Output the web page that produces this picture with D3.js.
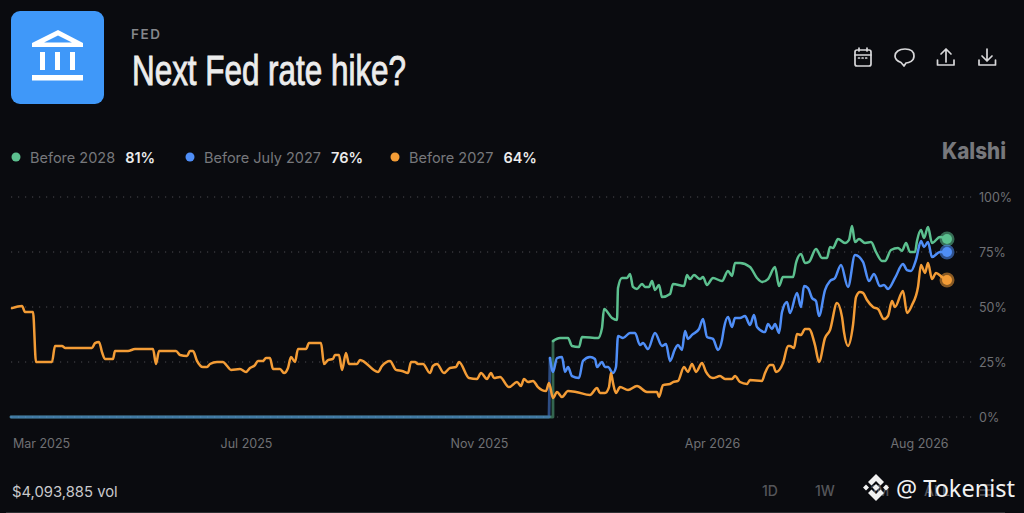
<!DOCTYPE html>
<html>
<head>
<meta charset="utf-8">
<script src="https://cdn.jsdelivr.net/npm/d3@7"></script>
<style>
  html, body { margin: 0; padding: 0; background: #0a0b0f; overflow: hidden; }
  svg { display: block; font-family: Inter, "Noto Sans", sans-serif; }
</style>
</head>
<body>
<svg id="chart" width="1024" height="513"></svg>
<script>
// sample step along the time axis, value in percent
const orangeSteps = [1,11,14,22,25,41,44,51,54,81,84,88,91,94,102,104,117,124,142,145,148,165,169,176,179,182,186,192,196,199,206,212,216,220,229,235,239,244,247,252,255,259,262,269,273,277,280,284,287,295,298,310,313,317,322,324,328,331,335,338,346,349,367,371,379,385,391,397,400,404,407,412,419,422,426,433,439,445,448,458,466,470,476,480,483,489,498,506,510,513,517,522,527,535,538,542,546,551,557,565,579,586,589,594,598,600,602,605,609,617,626,636,646,648,652,659,662,667,673,677,681,685,691,695,702,709,714,721,724,729,736,739,751,754,759,762,765,772,777,779,783,786,790,794,798,804,808,814,819,826,831,833,837,842,845,849,852,856,862,867,873,877,881,884,892,896,901,907,910,914,917,921,925,931,936];
const orangeValues = [49.5,50.5,47.7,47.7,25,25,32.3,32.3,31.4,31.4,33.6,34.1,29.5,26.4,26.4,30,30,30.9,30.9,24.1,30,30,28.2,27.7,30,30,25.5,22.7,22.7,24.1,25,25,23.2,21.4,21.8,20.5,22.3,23.6,25.5,25.5,26.8,26.8,21.8,21.8,20,22.3,27.3,25,30.9,30.9,33.6,33.6,24.1,25.9,26.4,28.2,28.2,21.4,29.1,24.1,24.1,25.9,20.5,23.2,25.5,21.4,20.9,20,25,25,24.1,24.1,20,23.2,24.1,20,22.3,22.7,25,17.7,17.3,20,17.3,20,17.7,18.2,13.6,15.9,14.1,17.3,15.9,16.4,13.6,11.8,15.5,8.6,11.4,9.1,11.8,11.4,10,13.2,10.9,10.9,13.6,20,15.5,10.9,13.6,12.3,14.1,11.4,11.4,9.1,14.5,15,15.9,16.4,22.7,20.5,24.1,20.5,24.5,20.5,17.7,18.6,17.3,17.3,18.6,15.9,15,16.8,16.4,20,23.6,23.6,20.5,24.5,32.3,32.3,31.4,37.7,37.3,40,40,32.7,25,35.9,39.5,51.8,45.5,38.6,32.3,41.8,54.5,56.8,56.4,53.2,50,49.1,44.5,45.9,52.7,50,57.3,47.3,50.9,59.1,69.1,65.5,70,62.7,65.5,63.6,62.3];

const blueSteps = [539,542,546,551,554,557,561,568,572,579,584,586,591,594,597,602,605,607,612,619,624,629,632,637,644,651,655,659,664,667,671,674,677,681,688,692,696,702,707,711,713,717,721,724,729,734,739,743,746,754,757,761,764,768,771,776,779,786,790,793,797,801,805,808,814,819,824,830,837,844,852,858,863,869,873,877,884,892,896,900,905,910,913,917,921,929,936];
const blueValues = [26.8,20.5,26.8,27.3,20.5,22.7,18.6,17.7,25.5,27.3,26.4,22.7,25,22.7,22.7,20,22.7,36.8,35.9,38.2,38.2,32.7,33.6,30.9,38.2,32.3,33.2,25.5,30.9,32.7,30.5,39.1,35.5,37.3,40,44.5,36.4,35.5,30.5,35,40.5,45.5,40.9,45,45,45.9,41.8,46.4,40.9,38.6,42.3,40,42.3,38.2,47.7,52.3,47.3,56.4,50,59.5,58.6,54.1,52.7,45.9,57.7,61.8,63.2,69.1,59.1,73.6,70.5,61.8,65,59.5,60,58.2,63.2,69.5,66.8,66.4,71.4,80,77.3,79.5,72.7,75,75];

const greenSteps = [542,549,557,561,568,571,587,591,593,601,606,607,611,616,619,622,626,631,634,638,641,644,648,651,659,662,673,676,679,683,689,692,696,702,711,717,721,724,729,739,746,751,757,764,768,772,782,785,790,794,798,805,811,816,819,822,827,834,838,841,844,848,854,860,865,871,874,880,887,891,895,899,904,906,910,913,917,921,929,936];
const greenValues = [34.5,35.9,35.9,32.3,31.8,36.4,35.9,40.5,49.1,45,44.1,58.6,63.2,63.2,65,59.1,58.2,60.5,59.1,59.1,61.8,57.7,60,54.5,55.9,60.5,59.5,64.5,62.7,64.5,62.7,63.6,60,63.2,61.8,66.4,64.1,70,70,68.2,63.2,61.4,62.7,68.2,59.5,63.6,63.6,70,74.1,70,70.5,76.4,72.3,72.3,77.3,76.8,80.9,79.1,80.5,86.8,79.5,80.9,79.1,79.5,75,70.9,70.9,75.9,76.8,75.5,79.1,75,75,80,85,81.4,86.4,79.1,81.8,80.9];

// blue and green sit at zero until they start trading
const blueLeadSteps = [0, 538, 539];
const blueLeadValues = [0, 0, 26.8];
const greenLeadSteps = [0, 542, 542];
const greenLeadValues = [0, 0, 34.5];

const yTicks = [0, 25, 50, 75, 100];
const xTickSteps = [30, 235, 468, 701, 908];
const xTickLabels = ["Mar 2025", "Jul 2025", "Nov 2025", "Apr 2026", "Aug 2026"];

const legendNames = ["Before 2028", "Before July 2027", "Before 2027"];
const legendValues = ["81%", "76%", "64%"];
const rangeLabels = ["1D", "1W", "1M", "ALL"];

const green = "#5cc08f", blue = "#4f8ef7", orange = "#f39c36";
const legendColors = [green, blue, orange];

const svg = d3.select("#chart");
const x = d3.scaleLinear().domain([0, 936]).range([11, 947]);
const y = d3.scaleLinear().domain([0, 100]).range([417, 197]);

// header
svg.append("rect").attr("x", 11).attr("y", 11).attr("width", 93).attr("height", 93)
  .attr("rx", 9).attr("fill", "#3f98f9");
const bank = svg.append("g").attr("fill", "#fff");
bank.append("path").attr("fill-rule", "evenodd")
  .attr("d", "M58 30 L83 43 L83 47 L32 47 L32 43 Z M58 35.5 L44 42.5 L72 42.5 Z");
[40, 55, 70].forEach(cx => bank.append("rect").attr("x", cx).attr("y", 52).attr("width", 5).attr("height", 18));
bank.append("rect").attr("x", 32).attr("y", 75).attr("width", 51).attr("height", 5.5);

svg.append("text").attr("x", 131).attr("y", 39).attr("fill", "#85868a")
  .attr("font-size", 13.5).attr("font-weight", 600).attr("letter-spacing", 1.6).text("FED");
svg.append("text").attr("x", 132).attr("y", 85).attr("fill", "#ececec")
  .attr("stroke", "#ececec").attr("stroke-width", 0.9)
  .attr("font-family", "'Liberation Sans Narrow', sans-serif")
  .attr("font-size", 42).attr("textLength", 274).attr("lengthAdjust", "spacingAndGlyphs")
  .text("Next Fed rate hike?");

// toolbar icons
const icons = svg.append("g").attr("fill", "none").attr("stroke", "#d8d8da")
  .attr("stroke-width", 1.7).attr("stroke-linecap", "round").attr("stroke-linejoin", "round");
icons.append("rect").attr("x", 855).attr("y", 50).attr("width", 16).attr("height", 16).attr("rx", 2);
icons.append("path").attr("d", "M855 55 H871 M859 48 V51 M867 48 V51");
icons.append("path").attr("stroke-dasharray", "1 2.6").attr("d", "M858.5 58 H868");
icons.append("path").attr("d", "M905 49 C911 49 914 52 914 56 C914 61 909 63 906 63 L904 66 L901 62.500 C897 61 895 59 895 56 C895 52 899 49 905 49 Z");
icons.append("path").attr("d", "M946 62 V50 M941 54 L946 49 L951 54 M937.500 60 V65 H954 V60");
icons.append("path").attr("d", "M987 49 V60 M982 56 L987 61 L992 56 M979 60 V65 H995.500 V60");

// legend
const legendStarts = [12, 186, 391];
legendNames.forEach((name, i) => {
  const g = svg.append("g").attr("transform", `translate(${legendStarts[i]},0)`);
  g.append("circle").attr("cx", 4).attr("cy", 157).attr("r", 4.5).attr("fill", legendColors[i]);
  const label = g.append("text").attr("x", 18).attr("y", 162.500).attr("fill", "#77787c").attr("font-size", 14.5).text(name);
  const w = label.node().getComputedTextLength();
  g.append("text").attr("x", 18 + w + 10).attr("y", 162.500).attr("fill", "#ececec")
    .attr("font-size", 14.5).attr("font-weight", 600).text(legendValues[i]);
});

svg.append("text").attr("x", 942).attr("y", 158.500).attr("fill", "#77787c")
  .attr("font-size", 23).attr("font-weight", 800).attr("textLength", 64)
  .attr("lengthAdjust", "spacingAndGlyphs").text("Kalshi");

// axes
const yAxis = svg.append("g").attr("transform", "translate(975,0)")
  .call(d3.axisRight(y).tickValues(yTicks).tickFormat(d => d + "%").tickSize(0).tickPadding(4));
yAxis.select(".domain").remove();
yAxis.selectAll("text").attr("fill", "#6f7074").attr("font-size", 12.5)
  .attr("font-family", "Inter, sans-serif");
svg.append("g").selectAll("line").data(yTicks).join("line")
  .attr("x1", 11).attr("x2", 975).attr("y1", d => y(d)).attr("y2", d => y(d))
  .attr("stroke", "#4a4b50").attr("stroke-width", 1).attr("stroke-dasharray", "1.2 5.8");

const xAxis = svg.append("g").attr("transform", "translate(0,437)")
  .call(d3.axisBottom(x).tickValues(xTickSteps).tickFormat((d, i) => xTickLabels[i]).tickSize(0).tickPadding(2));
xAxis.select(".domain").remove();
xAxis.selectAll("text").attr("fill", "#6f7074").attr("font-size", 12.5)
  .attr("font-family", "Inter, sans-serif");

// lines
const line = d3.line().x(d => x(d[0])).y(d => y(d[1])).curve(d3.curveMonotoneX);
const straight = d3.line().x(d => x(d[0])).y(d => y(d[1]));
const lines = svg.append("g").attr("fill", "none").attr("stroke-linejoin", "round").attr("stroke-linecap", "round");

function drawLead(steps, values, color) {
  lines.append("path").datum(d3.zip(steps, values)).attr("d", straight)
    .attr("stroke", color).attr("stroke-width", 2.8).attr("stroke-opacity", 0.5);
}
function drawSeries(steps, values, color) {
  lines.append("path").datum(d3.zip(steps, values)).attr("d", line)
    .attr("stroke", color).attr("stroke-width", 2.5);
}
drawLead(greenLeadSteps, greenLeadValues, green);
drawLead(blueLeadSteps, blueLeadValues, blue);
drawSeries(greenSteps, greenValues, green);
drawSeries(blueSteps, blueValues, blue);
drawSeries(orangeSteps, orangeValues, orange);

// end dots
[[greenSteps, greenValues, green], [blueSteps, blueValues, blue], [orangeSteps, orangeValues, orange]].forEach(([s, v, c]) => {
  const cx = x(s[s.length - 1]), cy = y(v[v.length - 1]);
  svg.append("circle").attr("cx", cx).attr("cy", cy).attr("r", 7.5).attr("fill", c).attr("fill-opacity", 0.55);
  svg.append("circle").attr("cx", cx).attr("cy", cy).attr("r", 5).attr("fill", c);
});

// footer
svg.append("text").attr("x", 12).attr("y", 496.500).attr("fill", "#c9c9cc").attr("font-size", 14.8).text("$4,093,885 vol");
const rangeX = [770, 825, 880, 937];
rangeLabels.forEach((t, i) => {
  svg.append("text").attr("x", rangeX[i]).attr("y", 496).attr("text-anchor", "middle")
    .attr("fill", "#55565a").attr("font-size", 14).attr("font-weight", 500).text(t);
});
svg.append("path").attr("stroke", "#55565a").attr("stroke-width", 1.6).attr("fill", "none")
  .attr("d", "M980 485 H992 M980 490 H992 M980 495 H992");
svg.append("line").attr("x1", 6).attr("x2", 1005).attr("y1", 512.500).attr("y2", 512.500)
  .attr("stroke", "#2e2f33").attr("stroke-width", 1);

// watermark
const mark = svg.append("g").attr("fill", "#f2f2f2");
mark.append("path").attr("fill-rule", "evenodd")
  .attr("d", "M876 474 L884 482 L880.500 485.500 L876 481 L871.500 485.500 L868 482 Z M876 501 L868 493 L871.500 489.500 L876 494 L880.500 489.500 L884 493 Z M876 484 L879.500 487.500 L876 491 L872.500 487.500 Z M866 484.500 L869 487.500 L866 490.500 L863 487.500 Z M886 484.500 L889 487.500 L886 490.500 L883 487.500 Z");
svg.append("text").attr("x", 896).attr("y", 497).attr("fill", "#f2f2f2")
  .attr("font-family", "'Noto Sans', sans-serif").attr("font-size", 24).attr("textLength", 119)
  .attr("lengthAdjust", "spacingAndGlyphs").text("@ Tokenist");
</script>
</body>
</html>
